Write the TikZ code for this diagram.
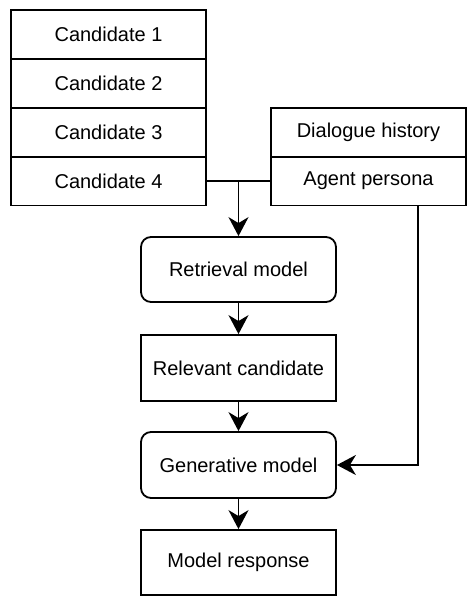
\documentclass[tikz,border=0pt]{standalone}
\usepackage{fontspec}
\setmainfont{Liberation Sans}
\usetikzlibrary{arrows.meta,positioning}
\tikzset{
  rowbox/.style={rectangle, draw=black, line width=1.8pt, minimum width=195pt, minimum height=49pt, inner sep=0pt, font=\fontsize{20}{24}\selectfont},
  modelbox/.style={rectangle, rounded corners=10pt, draw=black, line width=1.8pt, minimum width=195pt, minimum height=65pt, inner sep=0pt, font=\fontsize{20}{24}\selectfont},
  outbox/.style={rectangle, draw=black, line width=1.8pt, minimum width=195pt, minimum height=65pt, inner sep=0pt, font=\fontsize{20}{24}\selectfont},
  flow/.style={line width=1.8pt, draw=black, -{Stealth[length=19pt,width=20pt,inset=6pt]}},
  link/.style={line width=1.8pt, draw=black}
}

\begin{document}
\begin{tikzpicture}[x=1pt,y=-1pt]
  \useasboundingbox (0,0) rectangle (474,605);
  % candidates
  \node[rowbox] (cand1) at (108.5,34.5) {Candidate 1};
  \node[rowbox] (cand2) at (108.5,83.5) {Candidate 2};
  \node[rowbox] (cand3) at (108.5,132.5) {Candidate 3};
  \node[rowbox] (cand4) at (108.5,181) {Candidate 4};

  % context
  \node[rowbox] (hist) at (368.5,132.5) {Dialogue history};
  \node[rowbox] (persona) at (368.5,181) {Agent persona};

  % pipeline
  \node[modelbox] (retr) at (238.5,269.5) {Retrieval model};
  \node[outbox, minimum height=66pt] (rel) at (238.5,368) {Relevant candidate};
  \node[modelbox, minimum height=66pt] (gen) at (238.5,465) {Generative model};
  \node[outbox] (resp) at (238.5,562.5) {Model response};

  \coordinate (join) at (238.5,181);
  \coordinate (turn) at (418,465);
  \draw[link] (cand4) -- (persona);
  \draw[flow] (join) -- (retr);
  \draw[flow] (retr) -- (rel);
  \draw[flow] (rel) -- (gen);
  \draw[flow] (gen) -- (resp);
  \draw[flow] (persona.south -| turn) -- (turn) -- (gen);
\end{tikzpicture}
\end{document}
